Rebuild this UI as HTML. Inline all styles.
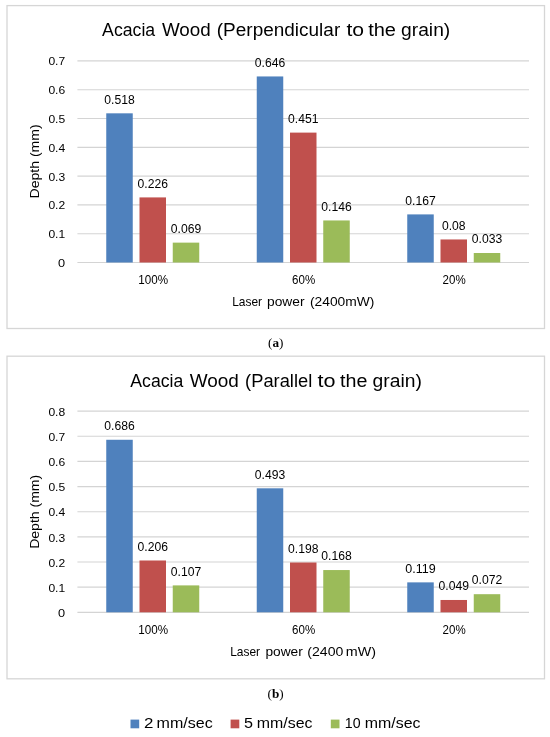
<!DOCTYPE html>
<html lang="en">
<head>
<meta charset="utf-8">
<title>Acacia Wood engraving depth charts</title>
<style>
html,body{margin:0;padding:0;background:#fff;}
body{width:550px;height:737px;overflow:hidden;}
svg{display:block;font-family:"Liberation Sans", sans-serif;fill:#000;}
</style>
</head>
<body>
<svg width="550" height="737" viewBox="0 0 550 737">
<rect x="0" y="0" width="550" height="737" fill="#fff"/>
<rect x="7" y="5.6" width="537.5" height="322.90" fill="#fff" stroke="#d6d6d6" stroke-width="1.3"/>
<line x1="77.4" x2="529" y1="262.50" y2="262.50" stroke="#d4d4d4" stroke-width="1.15"/>
<text x="65.2" y="266.90" font-size="11.7" text-anchor="end" textLength="7.1" lengthAdjust="spacingAndGlyphs">0</text>
<line x1="77.4" x2="529" y1="233.70" y2="233.70" stroke="#d4d4d4" stroke-width="1.15"/>
<text x="65.2" y="238.10" font-size="11.7" text-anchor="end" textLength="16.8" lengthAdjust="spacingAndGlyphs">0.1</text>
<line x1="77.4" x2="529" y1="204.90" y2="204.90" stroke="#d4d4d4" stroke-width="1.15"/>
<text x="65.2" y="209.30" font-size="11.7" text-anchor="end" textLength="16.8" lengthAdjust="spacingAndGlyphs">0.2</text>
<line x1="77.4" x2="529" y1="176.10" y2="176.10" stroke="#d4d4d4" stroke-width="1.15"/>
<text x="65.2" y="180.50" font-size="11.7" text-anchor="end" textLength="16.8" lengthAdjust="spacingAndGlyphs">0.3</text>
<line x1="77.4" x2="529" y1="147.30" y2="147.30" stroke="#d4d4d4" stroke-width="1.15"/>
<text x="65.2" y="151.70" font-size="11.7" text-anchor="end" textLength="16.8" lengthAdjust="spacingAndGlyphs">0.4</text>
<line x1="77.4" x2="529" y1="118.50" y2="118.50" stroke="#d4d4d4" stroke-width="1.15"/>
<text x="65.2" y="122.90" font-size="11.7" text-anchor="end" textLength="16.8" lengthAdjust="spacingAndGlyphs">0.5</text>
<line x1="77.4" x2="529" y1="89.70" y2="89.70" stroke="#d4d4d4" stroke-width="1.15"/>
<text x="65.2" y="94.10" font-size="11.7" text-anchor="end" textLength="16.8" lengthAdjust="spacingAndGlyphs">0.6</text>
<line x1="77.4" x2="529" y1="60.90" y2="60.90" stroke="#d4d4d4" stroke-width="1.15"/>
<text x="65.2" y="65.30" font-size="11.7" text-anchor="end" textLength="16.8" lengthAdjust="spacingAndGlyphs">0.7</text>
<text y="36" font-size="17.5"><tspan x="102.12" textLength="53.04" lengthAdjust="spacingAndGlyphs">Acacia</tspan> <tspan x="161.90" textLength="48.80" lengthAdjust="spacingAndGlyphs">Wood</tspan> <tspan x="216.80" textLength="123.41" lengthAdjust="spacingAndGlyphs">(Perpendicular</tspan> <tspan x="346.48" textLength="17.64" lengthAdjust="spacingAndGlyphs">to</tspan> <tspan x="368.16" textLength="27.84" lengthAdjust="spacingAndGlyphs">the</tspan> <tspan x="401.09" textLength="49.18" lengthAdjust="spacingAndGlyphs">grain)</tspan></text>
<rect x="106.25" y="113.32" width="26.5" height="149.18" fill="#4f81bd"/>
<text x="119.50" y="103.62" font-size="12" text-anchor="middle" textLength="30.4" lengthAdjust="spacingAndGlyphs">0.518</text>
<rect x="139.50" y="197.41" width="26.5" height="65.09" fill="#c0504d"/>
<text x="152.75" y="187.71" font-size="12" text-anchor="middle" textLength="30.4" lengthAdjust="spacingAndGlyphs">0.226</text>
<rect x="172.75" y="242.63" width="26.5" height="19.87" fill="#9bbb59"/>
<text x="186.00" y="232.93" font-size="12" text-anchor="middle" textLength="30.4" lengthAdjust="spacingAndGlyphs">0.069</text>
<text x="153.15" y="284" font-size="12" text-anchor="middle" textLength="29.8" lengthAdjust="spacingAndGlyphs">100%</text>
<rect x="256.75" y="76.45" width="26.5" height="186.05" fill="#4f81bd"/>
<text x="270.00" y="66.75" font-size="12" text-anchor="middle" textLength="30.4" lengthAdjust="spacingAndGlyphs">0.646</text>
<rect x="290.00" y="132.61" width="26.5" height="129.89" fill="#c0504d"/>
<text x="303.25" y="122.91" font-size="12" text-anchor="middle" textLength="30.4" lengthAdjust="spacingAndGlyphs">0.451</text>
<rect x="323.25" y="220.45" width="26.5" height="42.05" fill="#9bbb59"/>
<text x="336.50" y="210.75" font-size="12" text-anchor="middle" textLength="30.4" lengthAdjust="spacingAndGlyphs">0.146</text>
<text x="303.65" y="284" font-size="12" text-anchor="middle" textLength="23.1" lengthAdjust="spacingAndGlyphs">60%</text>
<rect x="407.25" y="214.40" width="26.5" height="48.10" fill="#4f81bd"/>
<text x="420.50" y="204.70" font-size="12" text-anchor="middle" textLength="30.4" lengthAdjust="spacingAndGlyphs">0.167</text>
<rect x="440.50" y="239.46" width="26.5" height="23.04" fill="#c0504d"/>
<text x="453.75" y="229.76" font-size="12" text-anchor="middle" textLength="23.6" lengthAdjust="spacingAndGlyphs">0.08</text>
<rect x="473.75" y="253.00" width="26.5" height="9.50" fill="#9bbb59"/>
<text x="487.00" y="243.30" font-size="12" text-anchor="middle" textLength="30.4" lengthAdjust="spacingAndGlyphs">0.033</text>
<text x="454.15" y="284" font-size="12" text-anchor="middle" textLength="23.1" lengthAdjust="spacingAndGlyphs">20%</text>
<text y="306.1" font-size="13"><tspan x="232.22" textLength="29.87" lengthAdjust="spacingAndGlyphs">Laser</tspan> <tspan x="267.00" textLength="37.52" lengthAdjust="spacingAndGlyphs">power</tspan> <tspan x="309.93" textLength="64.46" lengthAdjust="spacingAndGlyphs">(2400mW)</tspan></text>
<text transform="translate(39.1 161.4) rotate(-90)" font-size="13" text-anchor="middle" textLength="74" lengthAdjust="spacingAndGlyphs">Depth (mm)</text>
<text x="275.7" y="347.3" font-family='"Liberation Serif", serif' font-size="13.2" text-anchor="middle">(<tspan font-weight="bold">a</tspan>)</text>
<rect x="7" y="356.2" width="537.5" height="322.60" fill="#fff" stroke="#d6d6d6" stroke-width="1.3"/>
<line x1="77.4" x2="529" y1="612.30" y2="612.30" stroke="#d4d4d4" stroke-width="1.15"/>
<text x="65.2" y="617.00" font-size="11.7" text-anchor="end" textLength="7.1" lengthAdjust="spacingAndGlyphs">0</text>
<line x1="77.4" x2="529" y1="587.15" y2="587.15" stroke="#d4d4d4" stroke-width="1.15"/>
<text x="65.2" y="591.85" font-size="11.7" text-anchor="end" textLength="16.8" lengthAdjust="spacingAndGlyphs">0.1</text>
<line x1="77.4" x2="529" y1="562.00" y2="562.00" stroke="#d4d4d4" stroke-width="1.15"/>
<text x="65.2" y="566.70" font-size="11.7" text-anchor="end" textLength="16.8" lengthAdjust="spacingAndGlyphs">0.2</text>
<line x1="77.4" x2="529" y1="536.85" y2="536.85" stroke="#d4d4d4" stroke-width="1.15"/>
<text x="65.2" y="541.55" font-size="11.7" text-anchor="end" textLength="16.8" lengthAdjust="spacingAndGlyphs">0.3</text>
<line x1="77.4" x2="529" y1="511.70" y2="511.70" stroke="#d4d4d4" stroke-width="1.15"/>
<text x="65.2" y="516.40" font-size="11.7" text-anchor="end" textLength="16.8" lengthAdjust="spacingAndGlyphs">0.4</text>
<line x1="77.4" x2="529" y1="486.55" y2="486.55" stroke="#d4d4d4" stroke-width="1.15"/>
<text x="65.2" y="491.25" font-size="11.7" text-anchor="end" textLength="16.8" lengthAdjust="spacingAndGlyphs">0.5</text>
<line x1="77.4" x2="529" y1="461.40" y2="461.40" stroke="#d4d4d4" stroke-width="1.15"/>
<text x="65.2" y="466.10" font-size="11.7" text-anchor="end" textLength="16.8" lengthAdjust="spacingAndGlyphs">0.6</text>
<line x1="77.4" x2="529" y1="436.25" y2="436.25" stroke="#d4d4d4" stroke-width="1.15"/>
<text x="65.2" y="440.95" font-size="11.7" text-anchor="end" textLength="16.8" lengthAdjust="spacingAndGlyphs">0.7</text>
<line x1="77.4" x2="529" y1="411.10" y2="411.10" stroke="#d4d4d4" stroke-width="1.15"/>
<text x="65.2" y="415.80" font-size="11.7" text-anchor="end" textLength="16.8" lengthAdjust="spacingAndGlyphs">0.8</text>
<text y="386.8" font-size="17.5"><tspan x="130.36" textLength="52.94" lengthAdjust="spacingAndGlyphs">Acacia</tspan> <tspan x="189.74" textLength="49.16" lengthAdjust="spacingAndGlyphs">Wood</tspan> <tspan x="245.10" textLength="67.14" lengthAdjust="spacingAndGlyphs">(Parallel</tspan> <tspan x="317.43" textLength="18.01" lengthAdjust="spacingAndGlyphs">to</tspan> <tspan x="340.07" textLength="27.38" lengthAdjust="spacingAndGlyphs">the</tspan> <tspan x="372.56" textLength="49.28" lengthAdjust="spacingAndGlyphs">grain)</tspan></text>
<rect x="106.25" y="439.77" width="26.5" height="172.53" fill="#4f81bd"/>
<text x="119.50" y="430.07" font-size="12" text-anchor="middle" textLength="30.4" lengthAdjust="spacingAndGlyphs">0.686</text>
<rect x="139.50" y="560.49" width="26.5" height="51.81" fill="#c0504d"/>
<text x="152.75" y="550.79" font-size="12" text-anchor="middle" textLength="30.4" lengthAdjust="spacingAndGlyphs">0.206</text>
<rect x="172.75" y="585.39" width="26.5" height="26.91" fill="#9bbb59"/>
<text x="186.00" y="575.69" font-size="12" text-anchor="middle" textLength="30.4" lengthAdjust="spacingAndGlyphs">0.107</text>
<text x="153.15" y="634" font-size="12" text-anchor="middle" textLength="29.8" lengthAdjust="spacingAndGlyphs">100%</text>
<rect x="256.75" y="488.31" width="26.5" height="123.99" fill="#4f81bd"/>
<text x="270.00" y="478.61" font-size="12" text-anchor="middle" textLength="30.4" lengthAdjust="spacingAndGlyphs">0.493</text>
<rect x="290.00" y="562.50" width="26.5" height="49.80" fill="#c0504d"/>
<text x="303.25" y="552.80" font-size="12" text-anchor="middle" textLength="30.4" lengthAdjust="spacingAndGlyphs">0.198</text>
<rect x="323.25" y="570.05" width="26.5" height="42.25" fill="#9bbb59"/>
<text x="336.50" y="560.35" font-size="12" text-anchor="middle" textLength="30.4" lengthAdjust="spacingAndGlyphs">0.168</text>
<text x="303.65" y="634" font-size="12" text-anchor="middle" textLength="23.1" lengthAdjust="spacingAndGlyphs">60%</text>
<rect x="407.25" y="582.37" width="26.5" height="29.93" fill="#4f81bd"/>
<text x="420.50" y="572.67" font-size="12" text-anchor="middle" textLength="30.4" lengthAdjust="spacingAndGlyphs">0.119</text>
<rect x="440.50" y="599.98" width="26.5" height="12.32" fill="#c0504d"/>
<text x="453.75" y="590.28" font-size="12" text-anchor="middle" textLength="30.4" lengthAdjust="spacingAndGlyphs">0.049</text>
<rect x="473.75" y="594.19" width="26.5" height="18.11" fill="#9bbb59"/>
<text x="487.00" y="584.49" font-size="12" text-anchor="middle" textLength="30.4" lengthAdjust="spacingAndGlyphs">0.072</text>
<text x="454.15" y="634" font-size="12" text-anchor="middle" textLength="23.1" lengthAdjust="spacingAndGlyphs">20%</text>
<text y="656.4" font-size="13"><tspan x="230.22" textLength="29.87" lengthAdjust="spacingAndGlyphs">Laser</tspan> <tspan x="265.40" textLength="37.42" lengthAdjust="spacingAndGlyphs">power</tspan> <tspan x="307.34" textLength="35.98" lengthAdjust="spacingAndGlyphs">(2400</tspan> <tspan x="345.80" textLength="30.20" lengthAdjust="spacingAndGlyphs">mW)</tspan></text>
<text transform="translate(39.1 511.8) rotate(-90)" font-size="13" text-anchor="middle" textLength="74" lengthAdjust="spacingAndGlyphs">Depth (mm)</text>
<text x="275.7" y="697.6" font-family='"Liberation Serif", serif' font-size="13.2" text-anchor="middle">(<tspan font-weight="bold">b</tspan>)</text>
<rect x="130.5" y="719.6" width="8.7" height="8.7" fill="#4f81bd"/>
<text y="728.3" font-size="14.2"><tspan x="143.99" textLength="9.40" lengthAdjust="spacingAndGlyphs">2</tspan> <tspan x="156.57" textLength="56.12" lengthAdjust="spacingAndGlyphs">mm/sec</tspan></text>
<rect x="230.6" y="719.6" width="8.7" height="8.7" fill="#c0504d"/>
<text y="728.3" font-size="14.2"><tspan x="243.94" textLength="8.98" lengthAdjust="spacingAndGlyphs">5</tspan> <tspan x="256.87" textLength="55.66" lengthAdjust="spacingAndGlyphs">mm/sec</tspan></text>
<rect x="330.8" y="719.6" width="8.7" height="8.7" fill="#9bbb59"/>
<text y="728.3" font-size="14.2"><tspan x="344.78" textLength="15.75" lengthAdjust="spacingAndGlyphs">10</tspan> <tspan x="364.80" textLength="55.69" lengthAdjust="spacingAndGlyphs">mm/sec</tspan></text>
</svg>
</body>
</html>
